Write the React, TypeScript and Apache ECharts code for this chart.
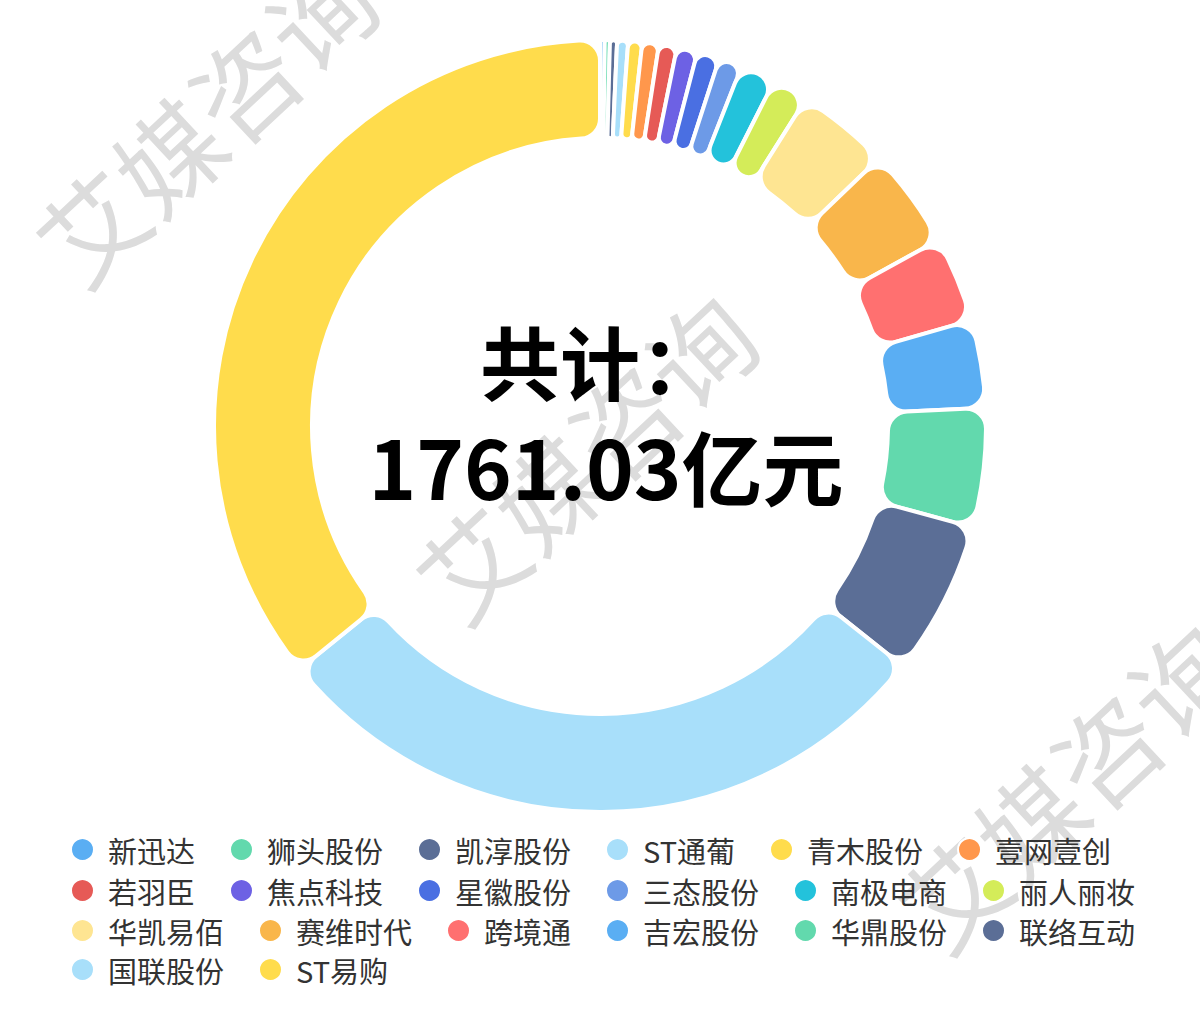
import React, { useEffect, useRef } from "react";
import * as echarts from "echarts";

const names = [
  "新迅达", "狮头股份", "凯淳股份", "ST通葡", "青木股份", "壹网壹创",
  "若羽臣", "焦点科技", "星徽股份", "三态股份", "南极电商", "丽人丽妆",
  "华凯易佰", "赛维时代", "跨境通", "吉宏股份", "华鼎股份", "联络互动",
  "国联股份", "ST易购",
];

// 营收（亿元），合计 1761.03
const values = [
  3.42, 3.82, 5.23, 8.07, 10.27, 12.23,
  13.21, 15.16, 16.63, 17.12, 25.93, 26.42,
  68.49, 73.38, 63.1, 64.57, 87.56, 113.49,
  501.9, 631.03,
];

const colors = [
  "#5AAEF3", "#62D9AD", "#5B6E96", "#A8DFFA", "#FFDC4C", "#FF974C",
  "#E65A56", "#6D61E4", "#4A6FE2", "#6D9AE7", "#23C2DB", "#D4EC59",
  "#FEE592", "#F9B64B", "#FF7070", "#5AAEF3", "#62D9AD", "#5B6E96",
  "#A8DFFA", "#FFDC4C",
];

const totalLabel = "1761.03亿元";
const titleLabel = "共计：";
const watermark = "艾媒咨询";

const legendRows = [
  names.slice(0, 6),
  names.slice(6, 12),
  names.slice(12, 18),
  names.slice(18),
];
const legendTops = [835, 876, 916, 955];

export default function App() {
  const ref = useRef<HTMLDivElement>(null);

  useEffect(() => {
    document.body.style.margin = "0";
    if (!ref.current) return;
    const chart = echarts.init(ref.current, null, { renderer: "svg" });

    const data = names.map((n, i) => ({
      name: n,
      value: values[i],
      itemStyle: { color: colors[i] },
    }));

    const wmPositions = [
      [204, 118],
      [584, 455],
      [1066, 784],
    ];

    const option: any = {
      animation: false,
      backgroundColor: "#ffffff",
      legend: legendRows.map((row, i) => ({
        data: row,
        orient: "horizontal",
        left: 70,
        top: legendTops[i],
        padding: 0,
        itemGap: 34,
        itemWidth: 41,
        itemHeight: 23,
        icon: "circle",
        selectedMode: false,
        textStyle: {
          fontSize: 29,
          lineHeight: 27,
          color: "#333333",
          fontFamily: "Noto Sans CJK SC",
        },
      })),
      graphic: [
        ...wmPositions.map((p) => ({
          type: "text",
          x: p[0],
          y: p[1],
          rotation: (43 * Math.PI) / 180,
          z: 0,
          silent: true,
          style: {
            text: watermark,
            fontSize: 104,
            fontFamily: "Noto Sans CJK SC",
            fontWeight: "normal",
            fill: "#dcdcdc",
            textAlign: "center",
            textVerticalAlign: "middle",
          },
        })),
        {
          type: "text",
          x: 600,
          y: 359,
          z: 100,
          style: {
            text: titleLabel,
            fontSize: 80,
            fontWeight: "bold",
            fontFamily: "Noto Sans CJK SC",
            fill: "#000000",
            textAlign: "center",
            textVerticalAlign: "middle",
          },
        },
        {
          type: "text",
          x: 606,
          y: 464,
          z: 100,
          style: {
            text: totalLabel,
            fontSize: 81,
            fontWeight: "bold",
            fontFamily: "Noto Sans CJK SC",
            fill: "#000000",
            textAlign: "center",
            textVerticalAlign: "middle",
          },
        },
      ],
      series: [
        {
          type: "pie",
          center: [600, 426],
          radius: [288, 386],
          startAngle: 90,
          clockwise: true,
          avoidLabelOverlap: false,
          label: { show: false },
          labelLine: { show: false },
          emphasis: { disabled: true },
          itemStyle: {
            borderRadius: 20,
            borderColor: "#ffffff",
            borderWidth: 4,
          },
          data,
        },
      ],
    };

    chart.setOption(option);
    return () => chart.dispose();
  }, []);

  return <div ref={ref} style={{ width: 1200, height: 1020 }} />;
}
